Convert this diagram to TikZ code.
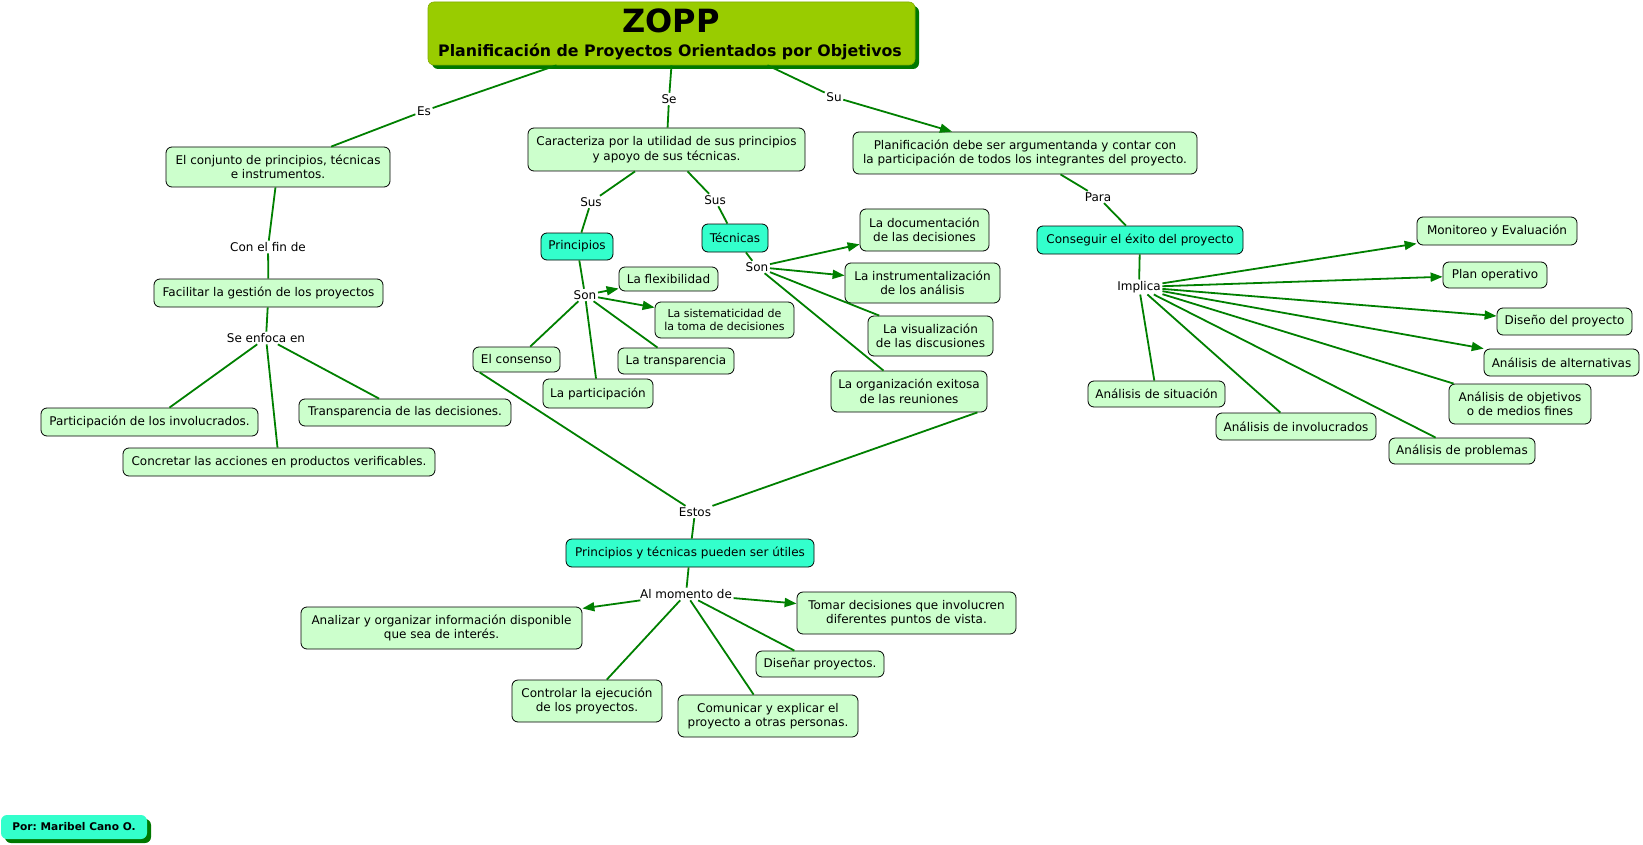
\documentclass[tikz,border=0pt]{standalone}
\usepackage{fontspec}
\setmainfont{DejaVu Sans}
\frenchspacing
\usetikzlibrary{arrows.meta,shadows}
\definecolor{lg}{RGB}{204,255,204}
\definecolor{cy}{RGB}{51,255,204}
\definecolor{tg}{RGB}{153,204,0}
\definecolor{lc}{RGB}{0,128,0}
\definecolor{shc}{RGB}{0,120,0}
\tikzset{
  cbox/.style={draw=black, line width=0.8pt, rounded corners=6pt, fill=lg, align=center, inner sep=0pt, font=\fontsize{12}{14.5}\selectfont},
  cybox/.style={cbox, fill=cy},
  lab/.style={inner sep=1.5pt, font=\fontsize{12}{14.5}\selectfont},
  ln/.style={draw=lc, line width=1.8pt},
  arr/.style={ln, -{Triangle[length=12pt,width=9pt]}},
  shd/.style={drop shadow={shadow xshift=4pt, shadow yshift=-4pt, fill=shc, opacity=1}},
}
\begin{document}
\begin{tikzpicture}[x=1pt,y=-1pt]
\fill[white] (0,0) rectangle (1643,845);
\useasboundingbox (0,0) rectangle (1643,845);

% title
\node[shd, draw=tg!85!black, line width=0.6pt, fill=tg, rounded corners=6pt, minimum width=487pt, minimum height=63pt, inner sep=0pt] (T) at (671.5,33.5) {};
\node[anchor=base, inner sep=0pt, font=\fontsize{32}{32}\selectfont\bfseries] (zopp) at (671,33) {ZOPP};
\node[anchor=base, inner sep=0pt, font=\fontsize{15.8}{18}\selectfont\bfseries] (ztit) at (670,57) {Planificación de Proyectos Orientados por Objetivos};

% concepts
\node[cbox, minimum width=224pt, minimum height=40pt] (n1) at (278,167) {El conjunto de principios, técnicas\\e instrumentos.};
\node[cbox, minimum width=229pt, minimum height=28pt] (n2) at (268.5,293) {Facilitar la gestión de los proyectos};
\node[cbox, minimum width=217pt, minimum height=28pt] (n3) at (149.5,422) {Participación de los involucrados.};
\node[cbox, minimum width=212pt, minimum height=27pt] (n4) at (405,412.5) {Transparencia de las decisiones.};
\node[cbox, minimum width=312pt, minimum height=28pt] (n5) at (279,462) {Concretar las acciones en productos verificables.};
\node[cbox, minimum width=277pt, minimum height=43pt] (n6) at (666.5,149.5) {Caracteriza por la utilidad de sus principios\\y apoyo de sus técnicas.};
\node[cbox, minimum width=344pt, minimum height=42pt] (n7) at (1025,153) {Planificación debe ser argumentanda y contar con\\la participación de todos los integrantes del proyecto.};
\node[cybox, minimum width=206pt, minimum height=28pt] (n8) at (1140,240) {Conseguir el éxito del proyecto};
\node[cybox, minimum width=72pt, minimum height=27pt] (prin) at (577,246.5) {Principios};
\node[cybox, minimum width=66pt, minimum height=28pt] (tec) at (735,238) {Técnicas};
\node[cbox, minimum width=99pt, minimum height=24pt] (flex) at (668.5,279) {La flexibilidad};
\node[cbox, minimum width=139pt, minimum height=36pt, font=\fontsize{11}{13.3}\selectfont] (sist) at (724.5,320) {La sistematicidad de\\la toma de decisiones};
\node[cbox, minimum width=116pt, minimum height=26pt] (transp) at (676,361) {La transparencia};
\node[cbox, minimum width=110pt, minimum height=29pt] (partic) at (598,393.5) {La participación};
\node[cbox, minimum width=87pt, minimum height=25pt] (cons) at (516.5,359.5) {El consenso};
\node[cbox, minimum width=129pt, minimum height=42pt] (doc) at (924.5,230) {La documentación\\de las decisiones};
\node[cbox, minimum width=155pt, minimum height=40pt] (instr) at (922.5,283) {La instrumentalización\\de los análisis};
\node[cbox, minimum width=125pt, minimum height=40pt] (visu) at (930.5,336) {La visualización\\de las discusiones};
\node[cbox, minimum width=156pt, minimum height=41pt] (orga) at (909,391.5) {La organización exitosa\\de las reuniones};
\node[cbox, minimum width=160pt, minimum height=28pt] (moni) at (1497,231) {Monitoreo y Evaluación};
\node[cbox, minimum width=104pt, minimum height=26pt] (plan) at (1495,275) {Plan operativo};
\node[cbox, minimum width=135pt, minimum height=27pt] (dise) at (1564.5,321.5) {Diseño del proyecto};
\node[cbox, minimum width=155pt, minimum height=27pt] (alte) at (1561.5,362.5) {Análisis de alternativas};
\node[cbox, minimum width=142pt, minimum height=40pt] (obje) at (1520,404) {Análisis de objetivos\\o de medios fines};
\node[cbox, minimum width=146pt, minimum height=26pt] (prob) at (1462,451) {Análisis de problemas};
\node[cbox, minimum width=137pt, minimum height=26pt] (situ) at (1156.5,394) {Análisis de situación};
\node[cbox, minimum width=160pt, minimum height=27pt] (invo) at (1296,426.5) {Análisis de involucrados};
\node[cybox, minimum width=248pt, minimum height=28pt] (pt) at (690,553) {Principios y técnicas pueden ser útiles};
\node[cbox, minimum width=281pt, minimum height=42pt] (anal) at (441.5,628) {Analizar y organizar información disponible\\que sea de interés.};
\node[cbox, minimum width=219pt, minimum height=42pt] (toma) at (906.5,613) {Tomar decisiones que involucren\\diferentes puntos de vista.};
\node[cbox, minimum width=128pt, minimum height=26pt] (disp) at (820,664) {Diseñar proyectos.};
\node[cbox, minimum width=180pt, minimum height=42pt] (comu) at (768,716) {Comunicar y explicar el\\proyecto a otras personas.};
\node[cbox, minimum width=150pt, minimum height=42pt] (cont) at (587,701) {Controlar la ejecución\\de los proyectos.};
\node[cybox, shd, draw=none, minimum width=146pt, minimum height=24pt, font=\fontsize{10.6}{12}\selectfont\bfseries] (por) at (74,827) {Por: Maribel Cano O.};

% linking phrases
\node[lab] (es) at (424,111) {Es};
\node[lab] (se) at (669,99) {Se};
\node[lab] (su) at (834,97) {Su};
\node[lab] (fin) at (268,247) {Con el fin de};
\node[lab] (enf) at (266,338) {Se enfoca en};
\node[lab] (susl) at (591,202) {Sus};
\node[lab] (susr) at (715,200) {Sus};
\node[lab] (sonp) at (585,295) {Son};
\node[lab] (sont) at (757,267) {Son};
\node[lab] (para) at (1098,197) {Para};
\node[lab] (impl) at (1139,287) {Implica};
\node[lab] (esto) at (695,512) {Estos};
\node[lab] (almo) at (686,594) {Al momento de};

% connectors
\draw[ln] ([xshift=-115pt]T.south) -- (es);
\draw[ln] (es) -- (n1);
\draw[ln] (T.south) -- (se);
\draw[ln] (se) -- (n6);
\draw[ln] ([xshift=96pt]T.south) -- (su);
\draw[arr] (su) -- (n7);
\draw[ln] (n1) -- (fin);
\draw[ln] (fin) -- (n2);
\draw[ln] (n2) -- (enf);
\draw[ln] (enf) -- (n3);
\draw[ln] (enf) -- (n4);
\draw[ln] (enf) -- (n5);
\draw[ln] (n6) -- (susl);
\draw[ln] (susl) -- (prin);
\draw[ln] (n6) -- (susr);
\draw[ln] (susr) -- (tec);
\draw[ln] (prin) -- (sonp);
\draw[arr] (sonp) -- (flex);
\draw[arr] (sonp) -- (sist);
\draw[ln] (sonp) -- (transp);
\draw[ln] (sonp) -- (partic);
\draw[ln] (sonp) -- (cons);
\draw[ln] (tec) -- (sont);
\draw[arr] (sont) -- (doc);
\draw[arr] (sont) -- (instr);
\draw[ln] (sont) -- (visu);
\draw[ln] (sont) -- (orga);
\draw[ln] (n7) -- (para);
\draw[ln] (para) -- (n8);
\draw[ln] (n8) -- (impl);
\draw[arr] (impl) -- (moni);
\draw[arr] (impl) -- (plan);
\draw[arr] (impl) -- (dise);
\draw[arr] (impl) -- (alte);
\draw[ln] (impl) -- (obje);
\draw[ln] (impl) -- (prob);
\draw[ln] (impl) -- (situ);
\draw[ln] (impl) -- (invo);
\draw[ln] ([xshift=7pt]cons.south west) -- (esto);
\draw[ln] ([xshift=-10pt]orga.south east) -- (esto);
\draw[ln] (esto) -- (pt);
\draw[ln] (pt) -- (almo);
\draw[arr] (almo) -- (anal);
\draw[arr] (almo) -- (toma);
\draw[ln] (almo) -- (disp);
\draw[ln] (almo) -- (comu);
\draw[ln] (almo) -- (cont);
\end{tikzpicture}
\end{document}
